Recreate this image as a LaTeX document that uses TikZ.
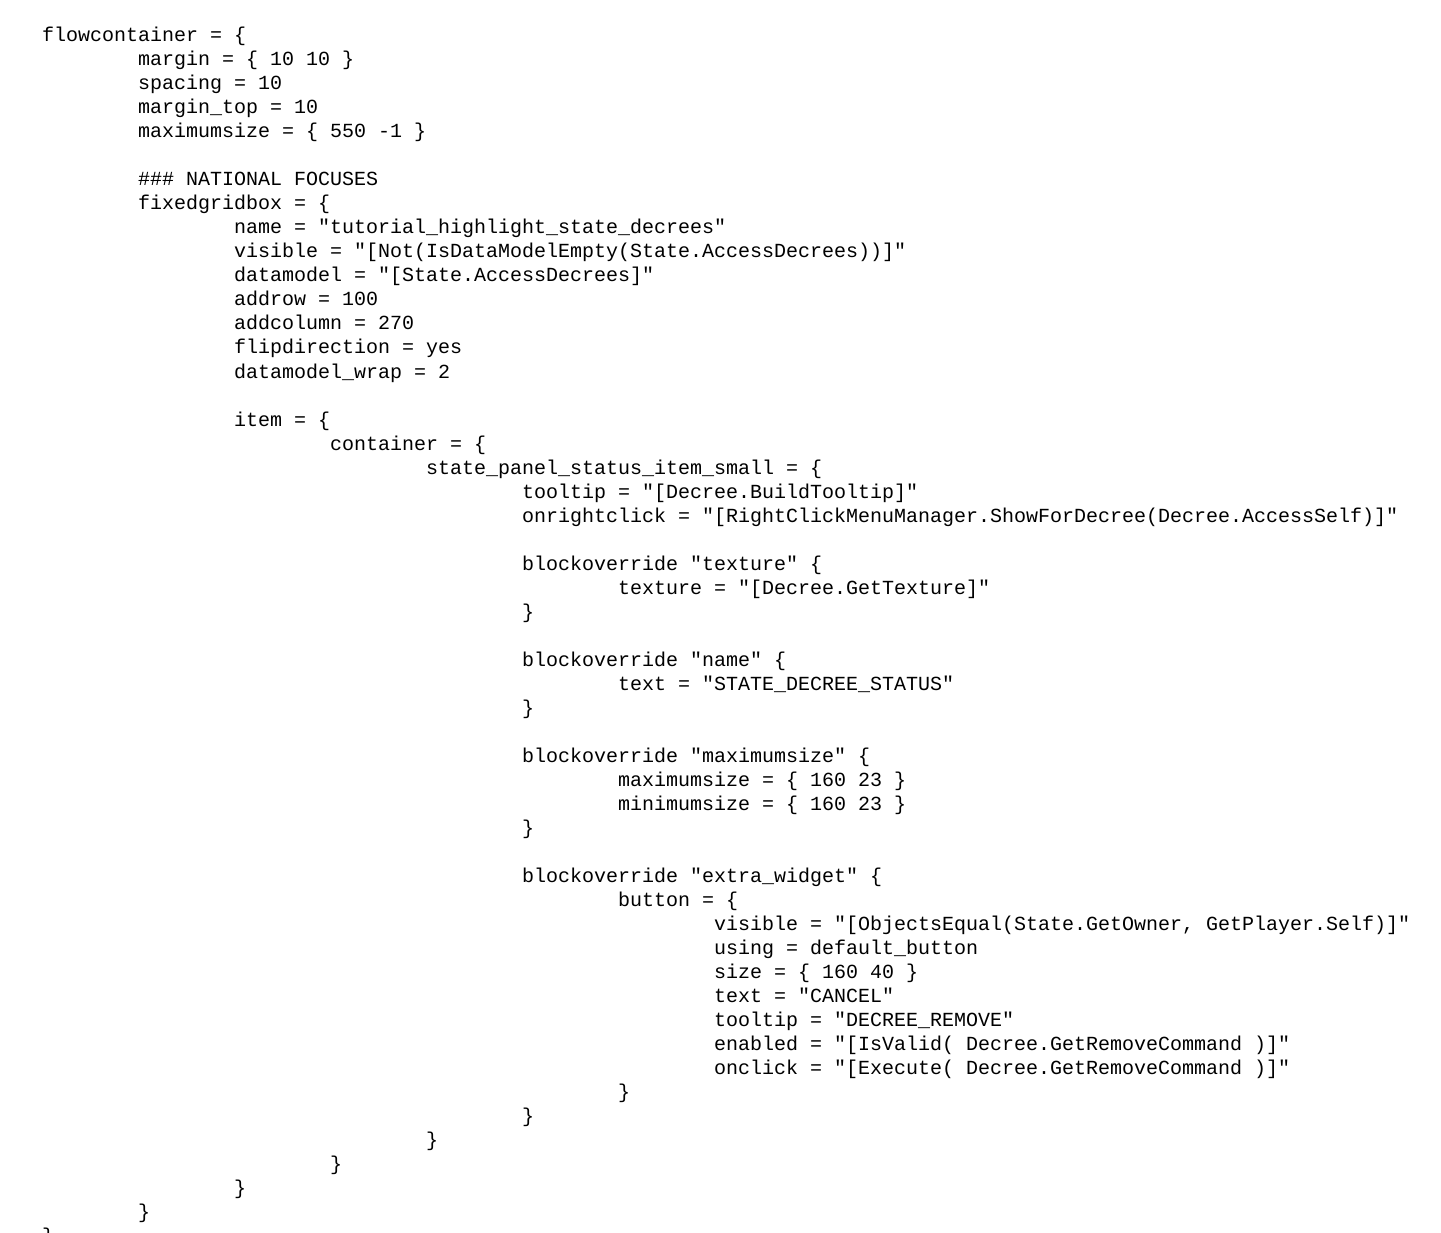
\documentclass[tikz,border=0pt]{standalone}
\usepackage{fontspec}
\setmonofont{Liberation Mono}
\begin{document}
\begin{tikzpicture}[x=1pt,y=-1pt,
  code/.style={anchor=base west,inner sep=0pt,font=\ttfamily\fontsize{20}{24}\selectfont}]
\useasboundingbox (0,0) rectangle (1441,1233);
\newcommand\cl[4]{\node[code] (#1) at ({42+96*#2},{42+24*(#3-1)}) {#4};}
\cl{l1}{0}{1}{flowcontainer = \{}
\cl{l2}{1}{2}{margin = \{ 10 10 \}}
\cl{l3}{1}{3}{spacing = 10}
\cl{l4}{1}{4}{margin\_top = 10}
\cl{l5}{1}{5}{maximumsize = \{ 550 -1 \}}
\cl{l7}{1}{7}{\#\#\# NATIONAL FOCUSES}
\cl{l8}{1}{8}{fixedgridbox = \{}
\cl{l9}{2}{9}{name = "tutorial\_highlight\_state\_decrees"}
\cl{l10}{2}{10}{visible = "[Not(IsDataModelEmpty(State.AccessDecrees))]"}
\cl{l11}{2}{11}{datamodel = "[State.AccessDecrees]"}
\cl{l12}{2}{12}{addrow = 100}
\cl{l13}{2}{13}{addcolumn = 270}
\cl{l14}{2}{14}{flipdirection = yes}
\cl{l15}{2}{15}{datamodel\_wrap = 2}
\cl{l17}{2}{17}{item = \{}
\cl{l18}{3}{18}{container = \{}
\cl{l19}{4}{19}{state\_panel\_status\_item\_small = \{}
\cl{l20}{5}{20}{tooltip = "[Decree.BuildTooltip]"}
\cl{l21}{5}{21}{onrightclick = "[RightClickMenuManager.ShowForDecree(Decree.AccessSelf)]"}
\cl{l23}{5}{23}{blockoverride "texture" \{}
\cl{l24}{6}{24}{texture = "[Decree.GetTexture]"}
\cl{l25}{5}{25}{\}}
\cl{l27}{5}{27}{blockoverride "name" \{}
\cl{l28}{6}{28}{text = "STATE\_DECREE\_STATUS"}
\cl{l29}{5}{29}{\}}
\cl{l31}{5}{31}{blockoverride "maximumsize" \{}
\cl{l32}{6}{32}{maximumsize = \{ 160 23 \}}
\cl{l33}{6}{33}{minimumsize = \{ 160 23 \}}
\cl{l34}{5}{34}{\}}
\cl{l36}{5}{36}{blockoverride "extra\_widget" \{}
\cl{l37}{6}{37}{button = \{}
\cl{l38}{7}{38}{visible = "[ObjectsEqual(State.GetOwner, GetPlayer.Self)]"}
\cl{l39}{7}{39}{using = default\_button}
\cl{l40}{7}{40}{size = \{ 160 40 \}}
\cl{l41}{7}{41}{text = "CANCEL"}
\cl{l42}{7}{42}{tooltip = "DECREE\_REMOVE"}
\cl{l43}{7}{43}{enabled = "[IsValid( Decree.GetRemoveCommand )]"}
\cl{l44}{7}{44}{onclick = "[Execute( Decree.GetRemoveCommand )]"}
\cl{l45}{6}{45}{\}}
\cl{l46}{5}{46}{\}}
\cl{l47}{4}{47}{\}}
\cl{l48}{3}{48}{\}}
\cl{l49}{2}{49}{\}}
\cl{l50}{1}{50}{\}}
\cl{l51}{0}{51}{\}}
\end{tikzpicture}
\end{document}
